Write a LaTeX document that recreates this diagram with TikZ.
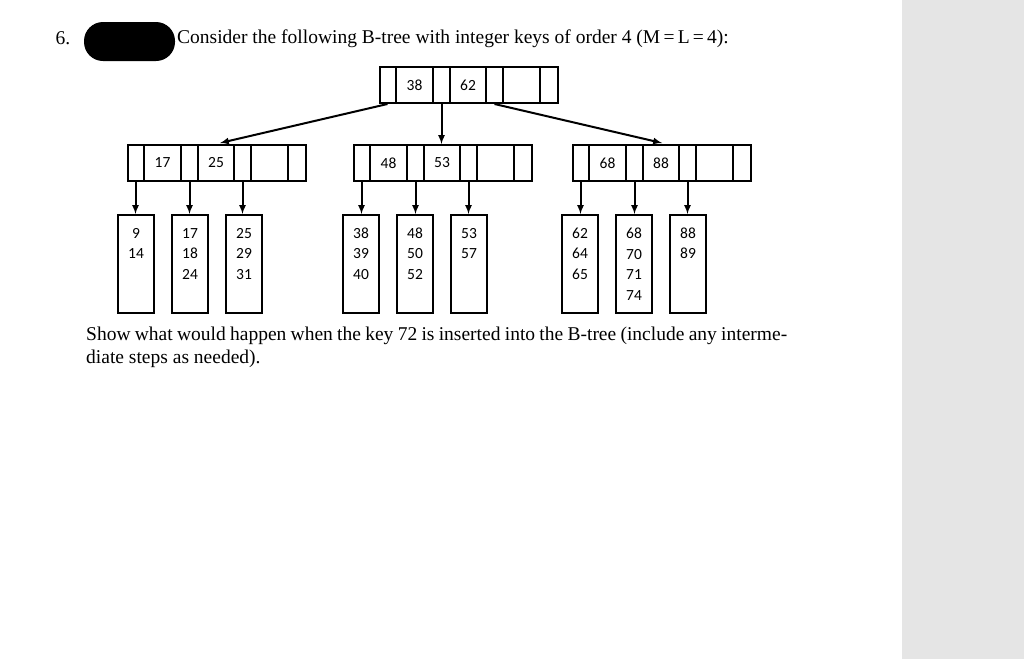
\documentclass[tikz,border=0pt]{standalone}
\usepackage{fontspec}
\setmainfont{Liberation Serif}
\newfontfamily\keyfont{Carlito}
\usetikzlibrary{positioning}

\tikzset{
  cell/.style={draw, line width=2pt, minimum width=178pt, minimum height=36pt, inner sep=0pt},
  leaf/.style={draw, line width=2pt, minimum width=36pt, minimum height=98pt, inner sep=0pt,
    anchor=north, font=\keyfont\fontsize{15.5}{20.5}\selectfont, align=center},
  key/.style={font=\keyfont\fontsize{15.5}{16}\selectfont},
  ptr/.style={-latex, line width=2pt}
}

% internal node: name, left x, top y, key1, key2
\newcommand{\bnode}[5]{%
  \node (#1) [cell, anchor=north west] at (#2,#3) {};
  \foreach \dx in {17,54,71,107,124,161}
    \draw[line width=2pt] ([xshift=\dx pt]#1.north west) -- ([xshift=\dx pt]#1.south west);
  \node [key] at ([xshift=35.5pt]#1.west) {#4};
  \node [key] at ([xshift=89pt]#1.west) {#5};
  \coordinate (#1-p1) at ([xshift=8.5pt]#1.south west);
  \coordinate (#1-p2) at ([xshift=62.5pt]#1.south west);
  \coordinate (#1-p3) at ([xshift=115.5pt]#1.south west);
}

\begin{document}
\begin{tikzpicture}[x=1pt, y=-1pt]
  \useasboundingbox (0,0) rectangle (1024,659);
  \fill[white] (0,0) rectangle (1024,659);
  \fill[black!10] (902,0) rectangle (1024,659);

  \node (num) [anchor=west, font=\fontsize{19.5}{22}\selectfont] at (52,38) {6.};
  \fill[rounded corners=19pt] (84,22) rectangle (175,61);
  \node (title) [anchor=west, font=\fontsize{19.5}{22}\selectfont, inner sep=0pt] at (177,39)
    {Consider the following B-tree with integer keys of order 4 (M\,=\,L\,=\,4):};

  \bnode{root}{379}{66}{38}{62}
  \bnode{left}{127}{144}{17}{25}
  \bnode{mid}{353}{144}{48}{53}
  \bnode{right}{572}{144}{68}{88}

  \draw[ptr] (root-p1) -- (220,143);
  \draw[ptr] (root-p2) -- (mid.north -| root-p2);
  \draw[ptr] (root-p3) -- (662,143);

  \node (l1) [leaf] at (136,214) {9\\14\\\phantom{0}\\\phantom{0}};
  \node (l2) [leaf] at (190,214) {17\\18\\24\\\phantom{0}};
  \node (l3) [leaf] at (244,214) {25\\29\\31\\\phantom{0}};
  \node (l4) [leaf] at (361,214) {38\\39\\40\\\phantom{0}};
  \node (l5) [leaf] at (415,214) {48\\50\\52\\\phantom{0}};
  \node (l6) [leaf] at (469,214) {53\\57\\\phantom{0}\\\phantom{0}};
  \node (l7) [leaf] at (580,214) {62\\64\\65\\\phantom{0}};
  \node (l8) [leaf] at (634,214) {68\\70\\71\\74};
  \node (l9) [leaf] at (688,214) {88\\89\\\phantom{0}\\\phantom{0}};

  \foreach \p/\l in {left-p1/l1, left-p2/l2, left-p3/l3, mid-p1/l4, mid-p2/l5, mid-p3/l6,
                     right-p1/l7, right-p2/l8, right-p3/l9}
    \draw[ptr] (\p) -- (\p |- \l.north);

  \node (question) [anchor=north west, inner sep=0pt, text width=701pt, align=justify,
    font=\fontsize{19.5}{23}\selectfont] at (86,327)
    {Show what would happen when the key 72 is inserted into the B-tree (include any intermediate steps as needed).};
\end{tikzpicture}
\end{document}
